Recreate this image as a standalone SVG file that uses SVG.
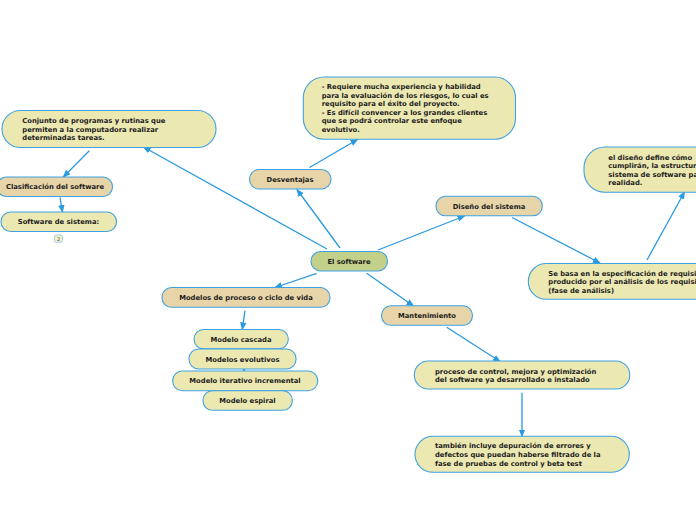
<svg xmlns="http://www.w3.org/2000/svg" width="696" height="520" viewBox="0 0 696 520">
<defs>
<marker id="ah" markerUnits="userSpaceOnUse" markerWidth="8" markerHeight="8" viewBox="0 0 8 8" refX="7" refY="4" orient="auto">
<path d="M0,0.8 L8,4 L0,7.2 Z" fill="#2a9ae0"/>
</marker>
<style>
.n{stroke:#3ea2e2;stroke-width:1.1}
.y{fill:#ece8b2}
.t{fill:#e8d4a9}
.g{fill:#c2d08a}
text{font-family:"DejaVu Sans","Verdana",sans-serif;font-weight:bold;font-size:6.8px;fill:#1c1c1c}
.c{text-anchor:middle}
.e{stroke:#2a9ae0;stroke-width:1.3;fill:none;marker-end:url(#ah)}
</style>
</defs>
<rect width="696" height="520" fill="#ffffff"/>
<g id="connectors">
<line class="e" x1="327" y1="249" x2="143.5" y2="147"/>
<line class="e" x1="340" y1="248" x2="297" y2="189.5"/>
<line class="e" x1="309.5" y1="167.5" x2="357.5" y2="139.5"/>
<line class="e" x1="378" y1="250" x2="464.5" y2="216"/>
<line class="e" x1="512" y1="217.5" x2="600" y2="263"/>
<line class="e" x1="647" y1="260" x2="684.5" y2="192"/>
<line class="e" x1="316.7" y1="273.3" x2="275" y2="287.5"/>
<line class="e" x1="366.7" y1="273.3" x2="413.5" y2="306"/>
<line class="e" x1="446.7" y1="327.3" x2="500" y2="361.5"/>
<line class="e" x1="522" y1="392.7" x2="522" y2="436.5"/>
<line class="e" x1="245" y1="310.7" x2="242.3" y2="329.5"/>
<line class="e" x1="89.3" y1="150.7" x2="63.3" y2="177"/>
<line class="e" x1="60" y1="197.3" x2="62.5" y2="212"/>
<line class="e" x1="244" y1="365" x2="244" y2="371.5"/>
</g>
<g id="el-software"><rect class="n g" x="311" y="251.5" width="76.5" height="19.5" rx="9.5"/><text class="c" x="349" y="263.8">El software</text></g>
<g id="conjunto"><rect class="n y" x="2" y="110.5" width="214" height="37" rx="18.5"/><text x="22.3" y="123">Conjunto de programas y rutinas que</text><text x="22.3" y="131.6">permiten a la computadora realizar</text><text x="22.3" y="140">determinadas tareas.</text></g>
<g id="clasificacion"><rect class="n t" x="-3" y="177" width="115.5" height="19.5" rx="9.5"/><text class="c" x="55" y="189.3">Clasificación del software</text></g>
<g id="software-sistema"><rect class="n y" x="1" y="212" width="115.5" height="19.5" rx="9.5"/><text class="c" x="58.5" y="224.3">Software de sistema:</text></g>
<g id="badge"><rect x="54.5" y="235" width="8" height="7.3" rx="1.8" fill="#f3f0c8" stroke="#9fd0f0" stroke-width="1"/><text class="c" x="58.5" y="240.9" style="font-size:5px;font-weight:normal;fill:#555">2</text></g>
<g id="desventajas"><rect class="n t" x="249.5" y="169.5" width="81.5" height="19.5" rx="9.5"/><text class="c" x="290" y="181.8">Desventajas</text></g>
<g id="desventajas-texto"><rect class="n y" x="303.3" y="77" width="212.2" height="62.3" rx="21"/>
<text x="321.7" y="89.2">- Requiere mucha experiencia y habilidad</text>
<text x="321.7" y="97.8">para la evaluación de los riesgos, lo cual es</text>
<text x="321.7" y="106.3">requisito para el éxito del proyecto.</text>
<text x="321.7" y="114.7">- Es difícil convencer a los grandes clientes</text>
<text x="321.7" y="123.4">que se podrá controlar este enfoque</text>
<text x="321.7" y="132">evolutivo.</text></g>
<g id="diseno"><rect class="n t" x="436" y="196.3" width="106.3" height="19.5" rx="9.5"/><text class="c" x="489" y="208.6">Diseño del sistema</text></g>
<g id="diseno-define"><rect class="n y" x="584" y="147" width="160" height="45.3" rx="21"/>
<text x="608.3" y="159.8">el diseño define cómo</text>
<text x="608.3" y="168.2">cumplirán, la estructura</text>
<text x="608.3" y="176.8">sistema de software para</text>
<text x="608.3" y="184.8">realidad.</text></g>
<g id="se-basa"><rect class="n y" x="528.3" y="263.5" width="220" height="35.8" rx="18"/>
<text x="548.3" y="275.8">Se basa en la especificación de requisitos</text>
<text x="548.3" y="284.2">producido por el análisis de los requisitos</text>
<text x="548.3" y="293.2">(fase de análisis)</text></g>
<g id="modelos-proceso"><rect class="n t" x="162" y="287.5" width="168" height="19.8" rx="9.5"/><text class="c" x="246" y="299.9">Modelos de proceso o ciclo de vida</text></g>
<g id="modelo-cascada"><rect class="n y" x="194" y="329.5" width="94.3" height="19.3" rx="9.5"/><text class="c" x="241" y="341.6">Modelo cascada</text></g>
<g id="modelos-evolutivos"><rect class="n y" x="189" y="349" width="107" height="20" rx="9.5"/><text class="c" x="242.5" y="361.5">Modelos evolutivos</text></g>
<g id="modelo-iterativo"><rect class="n y" x="172.7" y="371" width="145" height="19.7" rx="9.5"/><text class="c" x="245" y="383.3">Modelo iterativo incremental</text></g>
<g id="modelo-espiral"><rect class="n y" x="203" y="390.7" width="89.3" height="19.6" rx="9.5"/><text class="c" x="247.5" y="403">Modelo espiral</text></g>
<g id="mantenimiento"><rect class="n t" x="381.5" y="305.8" width="91" height="19.5" rx="9.5"/><text class="c" x="427" y="318">Mantenimiento</text></g>
<g id="proceso-control"><rect class="n y" x="414.3" y="361" width="215.5" height="28" rx="14"/>
<text x="435" y="374.2">proceso de control, mejora y optimización</text>
<text x="435" y="382.2">del software ya desarrollado e instalado</text></g>
<g id="tambien"><rect class="n y" x="415" y="436.3" width="214.3" height="36" rx="18"/>
<text x="435" y="448.2">también incluye depuración de errores y</text>
<text x="435" y="456.8">defectos que puedan haberse filtrado de la</text>
<text x="435" y="466.2">fase de pruebas de control y beta test</text></g>
</svg>
